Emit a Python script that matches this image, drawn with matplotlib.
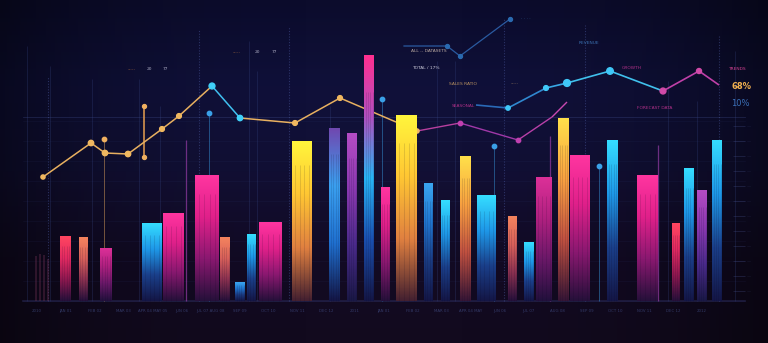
import numpy as np
import matplotlib
matplotlib.use("Agg")
import matplotlib.pyplot as plt
from matplotlib.colors import LinearSegmentedColormap
from matplotlib.collections import LineCollection

# ---- data ----
bar_x = [65.5, 83.5, 106, 152, 173.5, 207, 225, 240, 251.5, 270.5, 302, 334.5, 352, 369, 385.5,
         406.5, 428.5, 445.5, 465.5, 486.5, 512.5, 529, 544, 563.5, 580, 612.5, 647.5, 676, 689, 702, 717]
bar_val = [26, 25.6, 21.2, 31.2, 35.2, 50.4, 25.6, 7.6, 26.8, 31.6, 64, 69.2, 67.2, 98.4, 45.6,
           74.4, 47.2, 40.4, 58, 42.4, 34, 23.6, 49.6, 73.2, 58.4, 64.4, 50.4, 31.2, 53.2, 44.4, 64.4]
ghost_x = [36, 40, 44, 48]
ghost_val = [18, 19, 18.4, 17]

gold_x = [43, 91, 105, 128, 162, 179, 212, 240, 295, 340, 396, 417]
gold_y = [49.6, 63.2, 59.2, 58.8, 68.8, 74, 86, 73.2, 71.2, 81.2, 71.6, 68]
mag_x = [417, 460, 518, 552, 567]
mag_y = [68, 71.2, 64.4, 73.6, 79.6]
cyan_x = [476, 508, 546, 567, 610, 663, 699, 719]
cyan_y = [78.4, 77.2, 85.2, 87.2, 92, 84, 92, 86.4]
top_x = [404, 447, 460, 510]
top_y = [102, 102, 98, 112.8]

stem_x = [144, 104, 209, 186, 382, 494, 599, 550, 658]
stem_y = [78, 64.8, 75.2, 64.4, 80.8, 62, 54, 66, 62.4]

tick_labels = ["2010", "JAN 01", "FEB 02", "MAR 03", "APR 04 MAY 05", "JUN 06", "JUL 07 AUG 08",
               "SEP 09", "OCT 10", "NOV 11", "DEC 12", "2011", "JAN 01", "FEB 02", "MAR 03",
               "APR 04 MAY", "JUN 06", "JUL 07", "AUG 08", "SEP 09", "OCT 10", "NOV 11", "DEC 12", "2012"]

# ---- style ----
bar_w = [11, 9, 12, 20, 21, 24, 10, 10, 9, 23, 20, 11, 10, 10, 9,
         21, 9, 9, 11, 19, 9, 10, 16, 11, 20, 11, 21, 8, 10, 10, 10]
bar_kind = ["red", "salmon", "magenta", "cyan", "pink", "pink", "salmon", "blue", "cyan", "pink",
            "yellow", "violet", "purple", "pinkblue", "pink", "yellow", "blue", "cyan", "gold",
            "cyan", "salmon", "cyan", "magenta", "gold", "pink", "cyan", "pink", "red", "cyan",
            "purple", "cyan"]
palette = {
    "cyan": ["#35ddff", "#1e98e8", "#1a3f8a", "#141646"],
    "blue": ["#3aa6f0", "#2075cf", "#1a3a80", "#141646"],
    "pink": ["#ff35a0", "#e0208a", "#8a1870", "#26103a"],
    "red": ["#ff4660", "#e42a62", "#901850", "#26103a"],
    "salmon": ["#f4845e", "#d8605a", "#8a3050", "#26103a"],
    "yellow": ["#fff53c", "#ffc633", "#e08040", "#442030"],
    "gold": ["#ffe04a", "#f8a040", "#c05040", "#361535"],
    "magenta": ["#dc3098", "#b02080", "#6a1868", "#22103c"],
    "purple": ["#b44cc4", "#8a38b0", "#4a2a8a", "#1a1846"],
    "violet": ["#7048b0", "#3aa0f0", "#1f70d0", "#141646"],
    "pinkblue": ["#ff3090", "#b050c0", "#28b4f5", "#1a50b0", "#141646"],
}

BASE_Y0, Y1 = -16.8, 120.4

fig = plt.figure(figsize=(7.68, 3.43), dpi=100)
ax = fig.add_axes([0, 0, 1, 1])
ax.set_xlim(0, 768)
ax.set_ylim(BASE_Y0, Y1)
ax.axis("off")

# background gradient
bg = LinearSegmentedColormap.from_list("bg", ["#0c0c2c", "#10113a", "#121035", "#130b24", "#120a1e"])
grad = np.linspace(0, 1, 256).reshape(-1, 1)
ax.imshow(grad, cmap=bg, extent=[0, 768, BASE_Y0, Y1], aspect="auto", origin="upper", zorder=0)
side = np.abs(np.linspace(-1, 1, 256)).reshape(1, -1) ** 3
vig = np.zeros((1, 256, 4))
vig[..., 3] = side * 0.45
ax.imshow(vig, extent=[0, 768, BASE_Y0, Y1], aspect="auto", zorder=0.5)

# grid
for yv in np.arange(0, 80, 8):
    ax.axhline(yv, xmin=0.03, xmax=0.97, color="#3a4a8a", lw=0.5, alpha=0.12, zorder=1)
ax.axhline(73.6, xmin=0.03, xmax=0.97, color="#4a5aa0", lw=0.6, alpha=0.3, zorder=1)
ax.axhline(0, xmin=0.03, xmax=0.97, color="#2a2a5a", lw=1.2, alpha=0.6, zorder=1)
solid_v = [(27, 102), (50, 94), (92, 89), (139, 89), (160, 78), (249, 104), (257, 92), (330, 78),
           (437, 96), (455, 96), (668, 88), (697, 80), (735, 100)]
for xv, top in solid_v:
    ax.vlines(xv, 0, top, color="#3a4a8a", lw=0.6, alpha=0.3, zorder=1)
dotted_v = [(199, 108.4), (289, 109.6), (504, 113.2), (585, 110.4), (719, 106.4), (48, 90)]
for xv, top in dotted_v:
    ax.vlines(xv, 0, top, color="#5060a8", lw=0.8, alpha=0.45, linestyles=(0, (1, 1.5)), zorder=1)
for yv in np.arange(4, 74, 6):
    ax.hlines(yv, 733, 745, color="#4a5590", lw=0.5, alpha=0.4, zorder=1)
    ax.text(747, yv, "—", color="#4a5590", fontsize=3, alpha=0.4, va="center")

# faint ghost bars
ax.vlines(ghost_x, 0, ghost_val, color="#6a3050", lw=1.2, alpha=0.45, zorder=2)

# stems
for i, (sx, sy) in enumerate(zip(stem_x, stem_y)):
    if i == 0:
        ax.plot([sx, sx], [57.6, sy], color="#e8a050", lw=1.1, zorder=3)
        ax.scatter([sx, sx], [57.6, sy], s=8, color="#f0b060", zorder=4)
    elif i in (3, 7, 8):
        ax.vlines(sx, 0, sy, color="#a040b0", lw=0.9, alpha=0.65, zorder=2)
    else:
        c = "#f0b060" if i == 1 else "#3aa0e8"
        ax.vlines(sx, 0, sy, color=c, lw=0.7, alpha=0.45, zorder=2)
        ax.scatter([sx], [sy], s=10, color=c, zorder=4)

# gradient bars
col = np.linspace(0, 1, 200).reshape(-1, 1)
for x, v, w, k in zip(bar_x, bar_val, bar_w, bar_kind):
    cm = LinearSegmentedColormap.from_list(k, palette[k])
    ax.imshow(col, cmap=cm, extent=[x - w / 2, x + w / 2, 0, v], aspect="auto",
              origin="upper", interpolation="bilinear", zorder=5)
    for off in np.linspace(-0.35, 0.35, 4):
        ax.vlines(x + off * w, 0, v * 0.85, color="#0a0820", lw=0.4, alpha=0.22, zorder=5.5)
ax.set_xlim(0, 768)
ax.set_ylim(BASE_Y0, Y1)


def gradient_line(xs, ys, colors, lw=1.1, z=3):
    pts = np.column_stack([xs, ys])
    segs = np.stack([pts[:-1], pts[1:]], axis=1)
    ax.add_collection(LineCollection(segs, colors=colors, linewidths=lw, zorder=z))


# gold line with cyan peak
gold_cols = ["#e8b060"] * (len(gold_x) - 1)
gold_cols[6] = "#40c0f0"
gradient_line(gold_x, gold_y, gold_cols)
mk_c = ["#f0b860"] * len(gold_x)
mk_c[6] = mk_c[7] = "#40d0f8"
mk_s = [9, 15, 15, 15, 12, 12, 18, 15, 12, 12, 0, 9]
ax.scatter(gold_x, gold_y, s=mk_s, c=mk_c, zorder=4)

# magenta line
gradient_line(mag_x, mag_y, ["#b8409f", "#a038a8", "#b840a8", "#c848b0"], lw=1.0)
ax.scatter(mag_x[1:3], mag_y[1:3], s=10, c="#c040b0", zorder=4)

# cyan line (right)
cy_cols = ["#2a6ab8", "#3088d0", "#38a8e4", "#40c0ec", "#40c0ec", "#c040a8", "#c040a8"]
gradient_line(cyan_x, cyan_y, cy_cols, lw=1.2)
ax.scatter(cyan_x[1:5], cyan_y[1:5], s=[10, 12, 24, 22], c="#40c8f8", zorder=4)
ax.scatter(cyan_x[5:7], cyan_y[5:7], s=[18, 13], c="#d04aa8", zorder=4)

# top dark-blue line
ax.plot(top_x, top_y, color="#2a5aa0", lw=0.9, zorder=3)
ax.scatter(top_x[1:], top_y[1:], s=8, c="#2a6ab0", zorder=4)

# small annotation texts
fs = 3.2
notes = [
    (128, 69, "-----", "#b07040"), (147, 69, "20", "#a8a8c0"), (163, 69, "77", "#a8a8c0"),
    (233, 52, "-----", "#b07040"), (255, 52, "20", "#a8a8c0"), (272, 52, "77", "#a8a8c0"),
    (411, 51, "ALL -- DATASETS", "#b8a8a0"), (412, 68, "TOTAL / 17%", "#c8c8d8"),
    (449, 84, "SALES RATIO", "#b89060"), (511, 83, "-----", "#a08060"),
    (521, 19, "· · · ·", "#3a6ab0"), (579, 43, "REVENUE", "#3a70b0"),
    (452, 106, "SEASONAL", "#b03088"), (622, 68, "GROWTH", "#b03088"),
    (637, 108, "FORECAST DATA", "#b03088"), (728, 69, "TRENDS", "#d04090"),
]
for px, py, s, c in notes:
    ax.text(px, (301 - py) * 0.4, s, color=c, fontsize=fs, va="center", ha="left", zorder=7)
ax.text(731, (301 - 86) * 0.4, "68%", color="#f0b050", fontsize=6, fontweight="bold",
        va="center", ha="left", zorder=7)
ax.text(731, (301 - 104) * 0.4, "10%", color="#3a70b8", fontsize=6, va="center", ha="left", zorder=7)

# x tick labels
tick_pos = np.linspace(37, 702, len(tick_labels))
for tx, lab in zip(tick_pos, tick_labels):
    ax.text(tx, -4, lab, color="#4a5a98", fontsize=2.8, alpha=0.6, ha="center", va="center", zorder=7)

fig.savefig("out.png", dpi=100, facecolor="#0c0c2c")
